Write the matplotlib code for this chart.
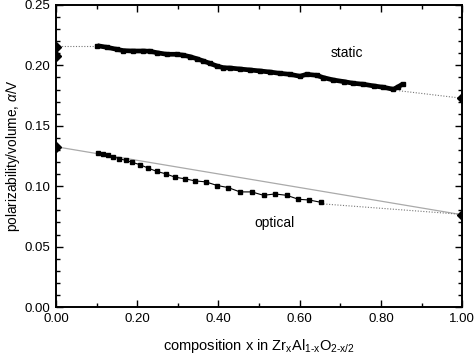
import matplotlib
matplotlib.use("Agg")
import matplotlib.pyplot as plt
from matplotlib.ticker import MultipleLocator, FormatStrFormatter

plt.rcParams['font.family'] = ['Liberation Sans', 'DejaVu Sans']
plt.rcParams['mathtext.fontset'] = 'custom'
plt.rcParams['mathtext.rm'] = 'Liberation Sans'
plt.rcParams['mathtext.it'] = 'Liberation Sans:italic'

# static polarizability / volume (thin films)
static_x = [0.102, 0.125, 0.150, 0.166, 0.190, 0.215, 0.232, 0.248, 0.273, 0.297,
            0.314, 0.330, 0.347, 0.363, 0.379, 0.396, 0.412, 0.429, 0.453, 0.478,
            0.502, 0.527, 0.552, 0.576, 0.601, 0.617, 0.642, 0.658, 0.683, 0.708,
            0.732, 0.757, 0.782, 0.806, 0.831, 0.843, 0.854]
static_y = [0.2163, 0.2150, 0.2133, 0.2122, 0.2119, 0.2119, 0.2117, 0.2105, 0.2092, 0.2092,
            0.2084, 0.2072, 0.2055, 0.2036, 0.2017, 0.1995, 0.1981, 0.1978, 0.1970, 0.1962,
            0.1954, 0.1945, 0.1934, 0.1926, 0.1910, 0.1926, 0.1918, 0.1899, 0.1879, 0.1866,
            0.1852, 0.1844, 0.1830, 0.1819, 0.1802, 0.1824, 0.1846]

# optical polarizability / volume
optical_x = [0.104, 0.115, 0.127, 0.141, 0.156, 0.172, 0.188, 0.207, 0.227, 0.248,
             0.270, 0.293, 0.318, 0.343, 0.369, 0.397, 0.424, 0.453, 0.482, 0.511,
             0.539, 0.568, 0.597, 0.624, 0.652]
optical_y = [0.1275, 0.1264, 0.1256, 0.1244, 0.1228, 0.1214, 0.1198, 0.1178, 0.1150, 0.1123,
             0.1103, 0.1075, 0.1061, 0.1044, 0.1036, 0.1006, 0.0989, 0.0953, 0.0953, 0.0925,
             0.0936, 0.0925, 0.0892, 0.0886, 0.0867]

# end-member (pure oxide) values
end_x = [0.0, 0.0, 1.0]
end_static_y = [0.2155, 0.2080, 0.1728]
end_optical_x = [0.0, 1.0]
end_optical_y = [0.1327, 0.0764]

# dotted extrapolations
static_ext_left_x = [0.0, 0.102]
static_ext_left_y = [0.2163, 0.2163]
static_ext_right_x = [0.845, 1.0]
static_ext_right_y = [0.1790, 0.1728]
optical_ext_x = [0.652, 1.0]
optical_ext_y = [0.0855, 0.0767]

fig = plt.figure(figsize=(4.74, 3.55), dpi=100)
ax = fig.add_axes([0.118, 0.135, 0.857, 0.851])

ax.plot(end_optical_x, end_optical_y, color='#aaaaaa', lw=0.9, zorder=1)

for xs, ys in [(static_ext_left_x, static_ext_left_y),
               (static_ext_right_x, static_ext_right_y),
               (optical_ext_x, optical_ext_y)]:
    ax.plot(xs, ys, color='#777777', lw=0.8, ls=(0, (1, 1.5)), zorder=1)

ax.plot(static_x, static_y, color='black', lw=3.4, marker='s', ms=3.0,
        solid_capstyle='butt', solid_joinstyle='miter', zorder=3)
ax.plot(optical_x, optical_y, color='black', lw=0.8, marker='s', ms=3.2, zorder=3)

ax.plot(end_x, end_static_y, ls='none', marker='D', ms=5, color='black', zorder=4)
ax.plot(end_optical_x, end_optical_y, ls='none', marker='D', ms=5, color='black', zorder=4)

ax.text(0.716, 0.210, 'static', fontsize=10, ha='center', va='center')
ax.text(0.539, 0.0693, 'optical', fontsize=10, ha='center', va='center')

ax.set_xlim(0, 1.0)
ax.set_ylim(0, 0.25)
ax.xaxis.set_major_locator(MultipleLocator(0.2))
ax.xaxis.set_minor_locator(MultipleLocator(0.1))
ax.yaxis.set_major_locator(MultipleLocator(0.05))
ax.yaxis.set_minor_locator(MultipleLocator(0.01))
ax.xaxis.set_major_formatter(FormatStrFormatter('%.2f'))
ax.yaxis.set_major_formatter(FormatStrFormatter('%.2f'))
ax.tick_params(which='both', direction='in', top=True, right=True, labelsize=9.5,
               width=1.0)
ax.tick_params(which='major', length=5, pad=4)
ax.tick_params(which='minor', length=3)
for s in ax.spines.values():
    s.set_linewidth(1.4)

ax.set_xlabel(r'composition x in Zr$_{\rm x}$Al$_{\rm 1\text{-}x}$O$_{\rm 2\text{-}x/2}$',
              fontsize=10.5, labelpad=9)
ax.set_ylabel(r'polarizability/volume, $\it{\alpha}$/V', fontsize=9.8, labelpad=2)

fig.savefig('out.png', dpi=100)
